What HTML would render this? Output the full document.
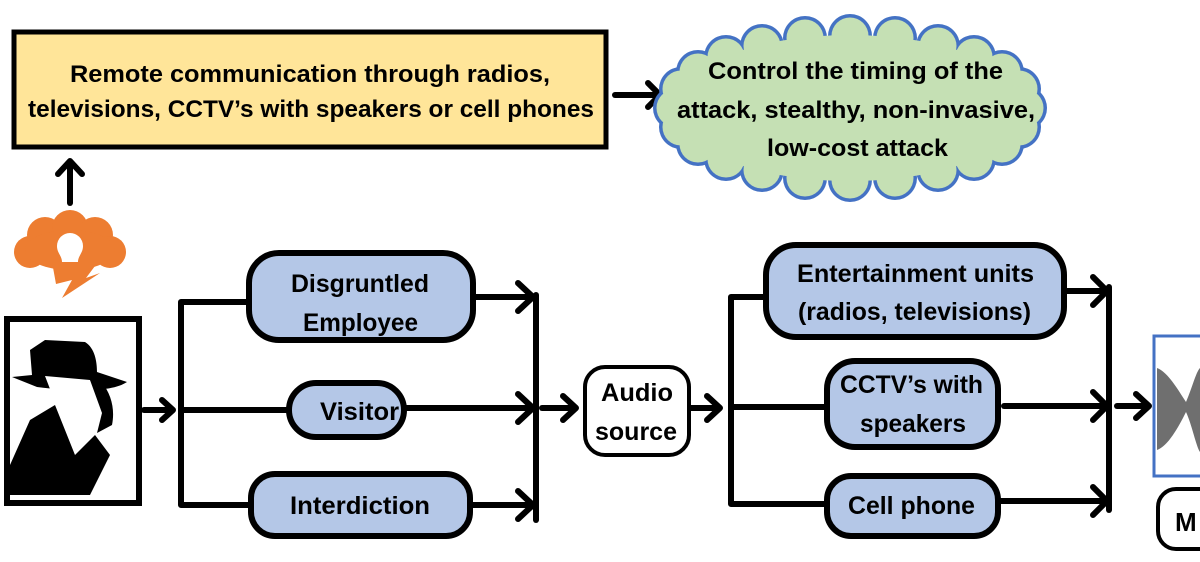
<!DOCTYPE html>
<html><head><meta charset="utf-8"><style>
html,body{margin:0;padding:0;background:#fff;}
svg{display:block;}
text{font-family:"Liberation Sans",sans-serif;font-weight:bold;fill:#000;}
</style></head><body>
<svg width="1200" height="562" viewBox="0 0 1200 562" xmlns="http://www.w3.org/2000/svg">
<!-- yellow box -->
<rect x="14" y="32" width="592" height="115" fill="#ffe599" stroke="#000" stroke-width="5"/>
<text x="70" y="82" font-size="24" textLength="480" lengthAdjust="spacingAndGlyphs">Remote communication through radios,</text>
<text x="28" y="117" font-size="24" textLength="566" lengthAdjust="spacingAndGlyphs">televisions, CCTV’s with speakers or cell phones</text>
<g stroke="#000" stroke-width="6" fill="none" stroke-linecap="round" stroke-linejoin="round">
<line x1="615" y1="95" x2="658" y2="95"/><polyline points="648,83 660,95 648,107"/>
<line x1="70" y1="203" x2="70" y2="162"/><polyline points="58,174 70,161 82,174"/>
</g>
<!-- cloud -->
<g id="cl" fill="#4472c4">
<circle cx="1025" cy="108" r="22"/><circle cx="1019" cy="127" r="22"/><circle cx="1002" cy="144" r="22"/><circle cx="974" cy="159" r="22"/><circle cx="938" cy="170" r="22"/><circle cx="895" cy="178" r="22"/><circle cx="850" cy="180" r="22"/><circle cx="805" cy="178" r="22"/><circle cx="762" cy="170" r="22"/><circle cx="726" cy="159" r="22"/><circle cx="698" cy="144" r="22"/><circle cx="681" cy="127" r="22"/><circle cx="675" cy="108" r="22"/><circle cx="681" cy="89" r="22"/><circle cx="698" cy="72" r="22"/><circle cx="726" cy="57" r="22"/><circle cx="762" cy="46" r="22"/><circle cx="805" cy="38" r="22"/><circle cx="850" cy="36" r="22"/><circle cx="895" cy="38" r="22"/><circle cx="938" cy="46" r="22"/><circle cx="974" cy="57" r="22"/><circle cx="1002" cy="72" r="22"/><circle cx="1019" cy="89" r="22"/>
</g>
<g fill="#c5e0b4">
<circle cx="1025" cy="108" r="18.5"/><circle cx="1019" cy="127" r="18.5"/><circle cx="1002" cy="144" r="18.5"/><circle cx="974" cy="159" r="18.5"/><circle cx="938" cy="170" r="18.5"/><circle cx="895" cy="178" r="18.5"/><circle cx="850" cy="180" r="18.5"/><circle cx="805" cy="178" r="18.5"/><circle cx="762" cy="170" r="18.5"/><circle cx="726" cy="159" r="18.5"/><circle cx="698" cy="144" r="18.5"/><circle cx="681" cy="127" r="18.5"/><circle cx="675" cy="108" r="18.5"/><circle cx="681" cy="89" r="18.5"/><circle cx="698" cy="72" r="18.5"/><circle cx="726" cy="57" r="18.5"/><circle cx="762" cy="46" r="18.5"/><circle cx="805" cy="38" r="18.5"/><circle cx="850" cy="36" r="18.5"/><circle cx="895" cy="38" r="18.5"/><circle cx="938" cy="46" r="18.5"/><circle cx="974" cy="57" r="18.5"/><circle cx="1002" cy="72" r="18.5"/><circle cx="1019" cy="89" r="18.5"/>
<ellipse cx="850" cy="108" rx="176" ry="73"/>
</g>
<text x="708" y="79" font-size="24" textLength="295" lengthAdjust="spacingAndGlyphs">Control the timing of the</text>
<text x="677" y="118" font-size="24" textLength="358" lengthAdjust="spacingAndGlyphs">attack, stealthy, non-invasive,</text>
<text x="767" y="156" font-size="24" textLength="181" lengthAdjust="spacingAndGlyphs">low-cost attack</text>
<!-- orange icon -->
<g fill="#ed7d31">
<circle cx="30" cy="252" r="16"/><circle cx="45" cy="235" r="18"/><circle cx="70" cy="228" r="18"/><circle cx="95" cy="235" r="18"/><circle cx="110" cy="252" r="16"/><ellipse cx="70" cy="250" rx="45" ry="20"/>
<polygon points="52,262 98,262 86,278 100,273 62,298 72,280 56,284"/>
</g>
<path d="M57,246 a13,13 0 1 1 26,0 c0,7 -5,10 -5,16 h-16 c0,-6 -5,-9 -5,-16z" fill="#fff"/>
<!-- spy -->
<rect x="7" y="319" width="132" height="184" fill="#fff" stroke="#000" stroke-width="6"/>
<path d="M30,350 l15,-10 40,2 c10,6 12,20 12,30 l30,10 c-15,10 -50,10 -90,5 l-25,-10 20,-2z" fill="#000"/>
<path d="M30,420 l25,-15 10,25 10,25 20,-20 15,20 -10,20 -10,20 -80,0 0,-30z" fill="#000"/>
<path d="M45,376 l45,4 c8,10 20,25 15,40 l-10,5 -15,10 -20,-20z" fill="#fff"/>
<path d="M90,380 l10,0 c12,14 15,30 12,45 l-15,8 5,-20z" fill="#000"/>
<!-- connectors -->
<g stroke="#000" stroke-width="6" fill="none" stroke-linecap="round" stroke-linejoin="round">
<line x1="144" y1="410" x2="172" y2="410"/><polyline points="162,400 173,410 162,420"/>
<polyline points="250,302 181,302 181,505 252,505"/>
<line x1="181" y1="410" x2="290" y2="410"/>
<line x1="474" y1="297" x2="533" y2="297"/><polyline points="518,283 533,297 518,311"/>
<line x1="404" y1="408" x2="533" y2="408"/><polyline points="518,394 533,408 518,422"/>
<line x1="470" y1="505" x2="533" y2="505"/><polyline points="518,491 533,505 518,519"/>
<line x1="536" y1="295" x2="536" y2="520"/>
<line x1="542" y1="408" x2="575" y2="408"/><polyline points="563,396 576,408 563,420"/>
<line x1="691" y1="408" x2="718" y2="408"/><polyline points="707,396 720,408 707,420"/>
<polyline points="765,297 731,297 731,504 826,504"/>
<line x1="731" y1="407" x2="826" y2="407"/>
<line x1="1064" y1="291" x2="1106" y2="291"/><polyline points="1093,277 1107,291 1093,305"/>
<line x1="1004" y1="406" x2="1106" y2="406"/><polyline points="1093,392 1107,406 1093,420"/>
<line x1="1000" y1="501" x2="1106" y2="501"/><polyline points="1093,487 1107,501 1093,515"/>
<line x1="1109" y1="287" x2="1109" y2="510"/>
<line x1="1117" y1="406" x2="1147" y2="406"/><polyline points="1136,394 1149,406 1136,418"/>
</g>
<!-- boxes -->
<g fill="#b4c7e7" stroke="#000" stroke-width="6">
<rect x="249" y="253" width="224" height="87" rx="30"/>
<rect x="289" y="383" width="115" height="54" rx="27"/>
<rect x="251" y="474" width="219" height="62" rx="24"/>
<rect x="766" y="245" width="298" height="92" rx="30"/>
<rect x="827" y="361" width="171" height="86" rx="28"/>
<rect x="827" y="476" width="171" height="60" rx="24"/>
</g>
<rect x="585" y="367" width="104" height="88" rx="20" fill="#fff" stroke="#000" stroke-width="4"/>
<g font-size="25">
<text x="291" y="292" textLength="138" lengthAdjust="spacingAndGlyphs">Disgruntled</text>
<text x="303" y="331" textLength="115" lengthAdjust="spacingAndGlyphs">Employee</text>
<text x="320" y="420" textLength="79" lengthAdjust="spacingAndGlyphs">Visitor</text>
<text x="290" y="514" textLength="140" lengthAdjust="spacingAndGlyphs">Interdiction</text>
<text x="601" y="401" textLength="72" lengthAdjust="spacingAndGlyphs">Audio</text>
<text x="595" y="440" textLength="82" lengthAdjust="spacingAndGlyphs">source</text>
<text x="797" y="282" textLength="237" lengthAdjust="spacingAndGlyphs">Entertainment units</text>
<text x="798" y="320" textLength="233" lengthAdjust="spacingAndGlyphs">(radios, televisions)</text>
<text x="840" y="393" textLength="143" lengthAdjust="spacingAndGlyphs">CCTV’s with</text>
<text x="860" y="432" textLength="106" lengthAdjust="spacingAndGlyphs">speakers</text>
<text x="848" y="514" textLength="127" lengthAdjust="spacingAndGlyphs">Cell phone</text>
</g>
<!-- waveform -->
<rect x="1154" y="336" width="50" height="140" fill="#fff" stroke="#4472c4" stroke-width="3"/>
<path d="M1157,368 C1168,372 1178,390 1186,402 C1192,388 1196,372 1200,368 L1200,452 C1196,446 1192,425 1186,412 C1178,428 1168,446 1157,450 Z" fill="#6f6f6f"/>
<rect x="1158" y="489" width="60" height="60" rx="18" fill="#fff" stroke="#000" stroke-width="4"/>
<text x="1175" y="531" font-size="26">M</text>
</svg>
</body></html>
